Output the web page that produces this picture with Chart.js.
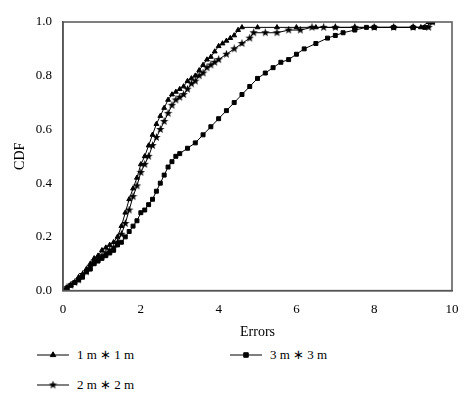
<!DOCTYPE html>
<html lang="en">
<head>
<meta charset="UTF-8">
<title>CDF</title>
<script src="https://cdn.jsdelivr.net/npm/chart.js"></script>
<style>
  body { margin: 0; background: #fff; font-family: "Liberation Serif", serif; }
  #wrap { position: relative; width: 474px; height: 345px; }
  .leg { position: absolute; font-size: 13px; color: #000; display: flex; align-items: center; }
  .leg canvas { margin-right: 6px; }
</style>
</head>
<body>
<div id="wrap"><canvas id="myChart" width="474" height="345"></canvas></div>
<div class="leg" style="left:35px;top:347px"><canvas id="l1" width="36" height="14"></canvas>1 m ∗ 1 m</div>
<div class="leg" style="left:228px;top:347px"><canvas id="l3" width="36" height="14"></canvas>3 m ∗ 3 m</div>
<div class="leg" style="left:35px;top:377px"><canvas id="l2" width="36" height="14"></canvas>2 m ∗ 2 m</div>
<script>
// error values (x) and CDF values (y) per grid size
const x1 = [0,0.1,0.2,0.3,0.4,0.5,0.6,0.7,0.8,0.9,1.0,1.1,1.2,1.3,1.4,1.5,1.6,1.7,1.8,1.9,2.0,2.1,2.2,2.3,2.4,2.5,2.6,2.7,2.8,2.9,3.0,3.1,3.2,3.3,3.4,3.5,3.6,3.7,3.8,3.9,4.0,4.1,4.2,4.3,4.4,4.5,4.6,5.0,5.5,6.0,6.5,7.0,7.5,8.0,8.5,9.0,9.2,9.4];
const y1 = [0,0.01,0.02,0.03,0.05,0.06,0.08,0.1,0.12,0.13,0.15,0.16,0.17,0.18,0.2,0.24,0.29,0.34,0.38,0.42,0.47,0.5,0.54,0.58,0.62,0.65,0.68,0.71,0.73,0.74,0.75,0.76,0.78,0.79,0.8,0.82,0.84,0.86,0.87,0.89,0.91,0.92,0.93,0.94,0.95,0.97,0.98,0.98,0.98,0.98,0.98,0.98,0.98,0.98,0.98,0.98,0.98,1.0];
const x2 = [0,0.1,0.2,0.3,0.4,0.5,0.6,0.7,0.8,0.9,1.0,1.1,1.2,1.3,1.4,1.5,1.6,1.7,1.8,1.9,2.0,2.1,2.2,2.3,2.4,2.5,2.6,2.7,2.8,2.9,3.0,3.1,3.2,3.3,3.4,3.5,3.6,3.7,3.8,3.9,4.0,4.2,4.4,4.6,4.8,4.9,5.2,5.5,5.8,6.1,6.4,6.7,7.0,7.5,8.0,8.5,9.0,9.4,9.5];
const y2 = [0,0.01,0.02,0.03,0.04,0.06,0.07,0.09,0.11,0.12,0.13,0.14,0.15,0.16,0.18,0.21,0.25,0.3,0.35,0.39,0.44,0.47,0.5,0.54,0.57,0.6,0.63,0.66,0.69,0.71,0.72,0.73,0.75,0.77,0.78,0.8,0.81,0.83,0.84,0.85,0.86,0.88,0.9,0.92,0.94,0.96,0.96,0.96,0.97,0.97,0.98,0.98,0.98,0.98,0.98,0.98,0.98,0.98,1.0];
const x3 = [0,0.1,0.2,0.3,0.4,0.5,0.6,0.7,0.8,0.9,1.0,1.1,1.2,1.3,1.4,1.5,1.6,1.7,1.8,1.9,2.0,2.1,2.2,2.3,2.4,2.5,2.6,2.7,2.8,2.9,3.0,3.2,3.4,3.6,3.8,4.0,4.2,4.4,4.6,4.8,5.0,5.2,5.4,5.6,5.8,6.0,6.2,6.5,6.8,7.0,7.2,7.5,7.8,8.0,8.5,9.0,9.3,9.5];
const y3 = [0,0.01,0.02,0.03,0.04,0.05,0.07,0.08,0.1,0.11,0.12,0.13,0.14,0.15,0.17,0.18,0.2,0.22,0.24,0.26,0.29,0.3,0.32,0.34,0.37,0.4,0.43,0.46,0.48,0.5,0.51,0.53,0.55,0.58,0.61,0.64,0.67,0.7,0.73,0.76,0.79,0.81,0.83,0.85,0.86,0.88,0.9,0.92,0.94,0.95,0.96,0.97,0.98,0.98,0.98,0.98,0.98,1.0];
const names = ['1 m ∗ 1 m', '2 m ∗ 2 m', '3 m ∗ 3 m'];
const xTicks = [0, 2, 4, 6, 8, 10];

function pts(xs, ys) { return xs.map((x, i) => ({ x: x, y: ys[i] })); }
const starImg = (() => {
  const c = document.createElement('canvas'); c.width = 9; c.height = 9;
  const g = c.getContext('2d'); g.fillStyle = '#000'; g.beginPath();
  for (let i = 0; i < 10; i++) {
    const r = i % 2 ? 1.8 : 4.4, a = -Math.PI / 2 + i * Math.PI / 5;
    g.lineTo(4.5 + r * Math.cos(a), 4.5 + r * Math.sin(a));
  }
  g.fill(); return c;
})();
function ds(label, data, style) {
  return { label: label, data: data, showLine: true, borderColor: '#000', backgroundColor: '#000',
    borderWidth: 1, pointStyle: style, pointRadius: 2.8, tension: 0 };
}
const ctx = document.getElementById('myChart').getContext('2d');
new Chart(ctx, {
  type: 'scatter',
  data: { datasets: [
    ds(names[0], pts(x1, y1), 'triangle'),
    ds(names[1], pts(x2, y2), starImg),
    ds(names[2], pts(x3, y3), 'rect')
  ] },
  options: {
    responsive: false, animation: false,
    layout: { padding: { left: 8, right: 22, top: 22, bottom: 0 } },
    plugins: { legend: { display: false }, tooltip: { enabled: false } },
    scales: {
      x: { type: 'linear', min: 0, max: 10, afterBuildTicks: a => { a.ticks = xTicks.map(v => ({ value: v })); },
        grid: { display: false, drawTicks: true }, border: { color: '#555', width: 1.5 },
        ticks: { color: '#000', font: { family: 'Liberation Serif', size: 13 }, maxRotation: 0 },
        title: { display: true, text: 'Errors', color: '#000', font: { family: 'Liberation Serif', size: 14 } } },
      y: { min: 0, max: 1, ticks: { stepSize: 0.2, color: '#000', font: { family: 'Liberation Serif', size: 13 }, callback: v => v.toFixed(1) },
        grid: { display: false }, border: { color: '#555', width: 1.5 },
        title: { display: true, text: 'CDF', color: '#000', font: { family: 'Liberation Serif', size: 14 } } }
    }
  },
  plugins: [{ id: 'frame', afterDraw(c) {
    const a = c.chartArea, g = c.ctx; g.save(); g.strokeStyle = '#555'; g.lineWidth = 1.5;
    g.strokeRect(a.left, a.top, a.right - a.left, a.bottom - a.top); g.restore();
  } }]
});
// legend swatches
[['l1', 'triangle'], ['l2', starImg], ['l3', 'rect']].forEach(([id, s]) => {
  const g = document.getElementById(id).getContext('2d');
  g.strokeStyle = '#000'; g.fillStyle = '#000'; g.beginPath(); g.moveTo(2, 7); g.lineTo(34, 7); g.stroke();
  Chart.helpers.drawPoint(g, { pointStyle: s, radius: 3.2, borderWidth: 1 }, 18, 7);
});
</script>
</body>
</html>
